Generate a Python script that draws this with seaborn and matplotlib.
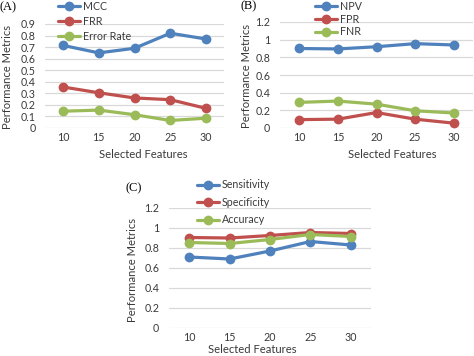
import matplotlib
matplotlib.use("Agg")
import matplotlib.pyplot as plt
import seaborn as sns
import pandas as pd

features = ["10", "15", "20", "25", "30"]

# Panel A
mcc = [0.715, 0.65, 0.69, 0.82, 0.77]
frr = [0.355, 0.305, 0.26, 0.245, 0.17]
error_rate = [0.145, 0.155, 0.115, 0.065, 0.085]
# Panel B
npv = [0.90, 0.895, 0.92, 0.955, 0.94]
fpr = [0.095, 0.10, 0.175, 0.10, 0.055]
fnr = [0.29, 0.305, 0.27, 0.195, 0.17]
# Panel C
sensitivity = [0.71, 0.69, 0.77, 0.865, 0.83]
specificity = [0.905, 0.90, 0.925, 0.955, 0.945]
accuracy = [0.855, 0.845, 0.885, 0.935, 0.915]

colors = ["#4F81BD", "#C0504D", "#9BBB59"]

sns.set_theme(style="white")
plt.rcParams["font.family"] = ["Lato", "DejaVu Sans"]

W, H = 474, 356
fig = plt.figure(figsize=(W / 100, H / 100), dpi=100)
TXT = "#3A3A3A"
FS = 7.7


def px_rect(l, r, t, b):
    return [l / W, 1 - b / H, (r - l) / W, (b - t) / H]


def fx(x):
    return x / W


def fy(y):
    return 1 - y / H


def panel(rect, series, names, ymax, ystep, leg_xy, leg_spacing, ylab_xy, xlab_xy, tag, tag_xy, ypad):
    ax = fig.add_axes(px_rect(*rect))
    rows = []
    for name, vals in zip(names, series):
        for f, v in zip(features, vals):
            rows.append({"Selected Features": f, "value": v, "metric": name})
    df = pd.DataFrame(rows)
    sns.pointplot(data=df, x="Selected Features", y="value", hue="metric",
                  order=features, hue_order=names, palette=colors,
                  errorbar=None, markers="o", linestyles="-", ax=ax,
                  linewidth=2.3, markersize=5.3)
    for ln in ax.lines:
        ln.set_clip_on(False)
    for c in ax.collections:
        c.set_clip_on(False)
    ax.set_xlim(-0.5, 4.5)
    ax.set_ylim(0, ymax)
    n = int(round(ymax / ystep))
    ticks = [round(i * ystep, 2) for i in range(n + 1)]
    ax.set_yticks(ticks)
    ax.set_yticklabels([f"{t:g}" for t in ticks])
    ax.grid(axis="y", color="#D9D9D9", linewidth=0.9)
    ax.set_axisbelow(True)
    for s in ax.spines.values():
        s.set_visible(False)
    ax.tick_params(axis="both", length=0, labelsize=FS, labelcolor=TXT)
    ax.tick_params(axis="y", pad=ypad)
    ax.tick_params(axis="x", pad=3)
    ax.set_xlabel("")
    ax.set_ylabel("")
    handles, labels = ax.get_legend_handles_labels()
    if ax.get_legend() is not None:
        ax.get_legend().remove()
    fig.legend(handles, labels, loc="upper left",
               bbox_to_anchor=(fx(leg_xy[0]), fy(leg_xy[1])),
               bbox_transform=fig.transFigure, frameon=False, borderpad=0,
               borderaxespad=0, handlelength=2.1, handletextpad=0.2,
               labelspacing=leg_spacing, fontsize=FS, labelcolor=TXT)
    fig.text(fx(ylab_xy[0]), fy(ylab_xy[1]), "Performance Metrics", rotation=90,
             ha="center", va="center", fontsize=FS + 0.4, color=TXT)
    fig.text(fx(xlab_xy[0]), fy(xlab_xy[1]), "Selected Features",
             ha="center", va="center", fontsize=FS + 0.4, color=TXT)
    fig.text(fx(tag_xy[0]), fy(tag_xy[1]), tag, ha="left", va="center",
             fontsize=9, color="#000000", family=["Liberation Serif", "DejaVu Serif"])
    return ax


panel((45, 224, 24, 128), [mcc, frr, error_rate], ["MCC", "FRR", "Error Rate"],
      0.9, 0.1, (58, 1.0), 0.36, (8, 77), (143, 154), "(A)", (0, 7), 6.5)
panel((280, 473, 22, 128), [npv, fpr, fnr], ["NPV", "FPR", "FNR"],
      1.2, 0.2, (315, 1.0), 0.16, (247, 76), (392, 154), "(B)", (240, 6), 7)
panel((169, 371, 208, 328), [sensitivity, specificity, accuracy],
      ["Sensitivity", "Specificity", "Accuracy"],
      1.2, 0.2, (197, 179.5), 0.6, (132, 270), (252, 349.5), "(C)", (125, 188), 7)

fig.savefig("out.png", dpi=100)
